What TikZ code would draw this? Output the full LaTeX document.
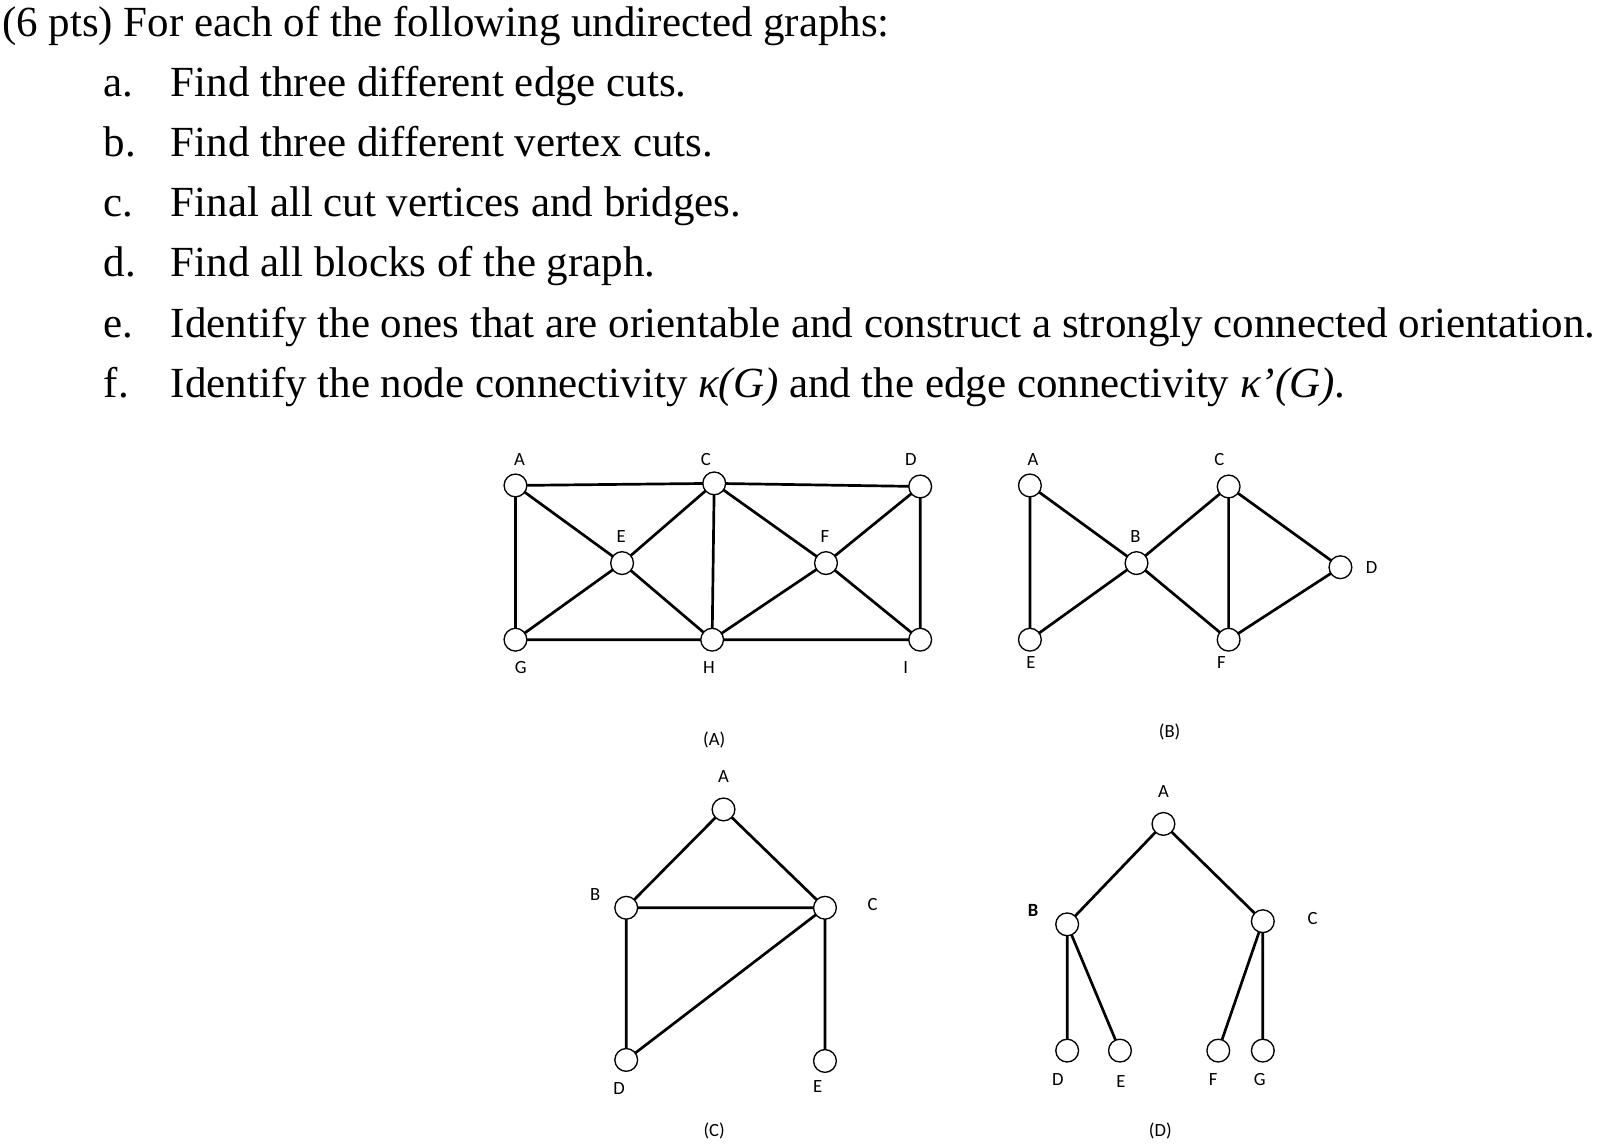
\documentclass[tikz,border=0pt]{standalone}
\usepackage{fontspec}
\setmainfont{Liberation Serif}
\newfontfamily\lblfont{Carlito}
\begin{document}
\begin{tikzpicture}[x=1pt,y=-1pt,
  vtx/.style={circle,draw,fill=white,line width=1.3pt,minimum size=22pt,inner sep=0pt},
  edge/.style={line width=2.6pt},
  lbl/.style={font=\lblfont\fontsize{18}{18}\selectfont},
  txt/.style={anchor=base west,font=\fontsize{41.5}{41.5}\selectfont,inner sep=0pt}]
\useasboundingbox (0,0) rectangle (1568,1108);
\node[txt] (t0) at (2,35) {(6 pts) For each of the following undirected graphs:};
\node[txt] (ta) at (100,93) {a.};\node[txt] (tat) at (165,93) {Find three different edge cuts.};
\node[txt] (tb) at (100,151) {b.};\node[txt] (tbt) at (165,151) {Find three different vertex cuts.};
\node[txt] (tc) at (100,209) {c.};\node[txt] (tct) at (165,209) {Final all cut vertices and bridges.};
\node[txt] (td) at (100,267) {d.};\node[txt] (tdt) at (165,267) {Find all blocks of the graph.};
\node[txt] (te) at (100,326) {e.};\node[txt] (tet) at (165,326) {Identify the ones that are orientable and construct a strongly connected orientation.};
\node[txt] (tf) at (100,384) {f.};\node[txt] (tft) at (165,384) {Identify the node connectivity \textit{κ(G)} and the edge connectivity \textit{κ'(G)}.};
% Graph A
\coordinate (aA) at (498,469);\coordinate (aC) at (690,467);\coordinate (aD) at (889,470);
\coordinate (aE) at (601,544);\coordinate (aF) at (798,544);
\coordinate (aG) at (498,618);\coordinate (aH) at (688,618);\coordinate (aI) at (889,618);
\draw[edge] (aA)--(aC) (aC)--(aD) (aA)--(aG) (aA)--(aE) (aE)--(aH) (aG)--(aE) (aE)--(aC) (aG)--(aH) (aC)--(aH) (aC)--(aF) (aF)--(aI) (aH)--(aF) (aF)--(aD) (aD)--(aI) (aH)--(aI);
\foreach \n in {A,C,D,E,F,G,H,I} \node[vtx] (na\n) at (a\n) {};
\node[lbl] (la1) at (502,444) {A};\node[lbl] (la2) at (682,444) {C};\node[lbl] (la3) at (880,444) {D};
\node[lbl] (la4) at (600,518) {E};\node[lbl] (la5) at (797,518) {F};\node[lbl] (la6) at (503,645) {G};
\node[lbl] (la7) at (685,645) {H};\node[lbl] (la8) at (875,645) {I};
\node[lbl] (capA) at (690,715) {(A)};
% Graph B
\coordinate (bA) at (995,469);\coordinate (bC) at (1187,470);\coordinate (bB) at (1098,544);
\coordinate (bD) at (1295,548);\coordinate (bE) at (995,618);\coordinate (bF) at (1187,618);
\draw[edge] (bA)--(bE) (bA)--(bB) (bB)--(bC) (bB)--(bE) (bB)--(bF) (bC)--(bF) (bC)--(bD) (bD)--(bF);
\foreach \n in {A,B,C,D,E,F} \node[vtx] (nb\n) at (b\n) {};
\node[lbl] (lb1) at (998,444) {A};\node[lbl] (lb2) at (1178,444) {C};\node[lbl] (lb3) at (1097,518) {B};
\node[lbl] (lb4) at (1325,548) {D};\node[lbl] (lb5) at (996,640) {E};\node[lbl] (lb6) at (1180,640) {F};
\node[lbl] (capB) at (1130,707) {(B)};
% Graph C
\coordinate (cA) at (699,782);\coordinate (cB) at (605,877);\coordinate (cC) at (797,877);
\coordinate (cD) at (605,1024);\coordinate (cE) at (797,1025);
\draw[edge] (cA)--(cB) (cA)--(cC) (cB)--(cC) (cB)--(cD) (cD)--(cC) (cC)--(cE);
\foreach \n in {A,B,C,D,E} \node[vtx] (nc\n) at (c\n) {};
\node[lbl] (lc1) at (699,750) {A};\node[lbl] (lc2) at (575,864) {B};\node[lbl] (lc3) at (843,874) {C};
\node[lbl] (lc4) at (598,1052) {D};\node[lbl] (lc5) at (790,1050) {E};
\node[lbl] (capC) at (690,1093) {(C)};
% Graph D
\coordinate (dA) at (1124,796);\coordinate (dB) at (1031,893);\coordinate (dC) at (1220,890);
\coordinate (dD) at (1031,1015);\coordinate (dE) at (1082,1015);\coordinate (dF) at (1177,1015);\coordinate (dG) at (1220,1015);
\draw[edge] (dA)--(dB) (dA)--(dC) (dB)--(dD) (dB)--(dE) (dC)--(dF) (dC)--(dG);
\foreach \n in {A,B,C,D,E,F,G} \node[vtx] (nd\n) at (d\n) {};
\node[lbl] (ld1) at (1124,765) {A};\node[lbl] (ld2) at (998,880) {\textbf{B}};\node[lbl] (ld3) at (1268,887) {C};
\node[lbl] (ld4) at (1022,1043) {D};\node[lbl] (ld5) at (1083,1045) {E};\node[lbl] (ld6) at (1172,1043) {F};\node[lbl] (ld7) at (1217,1043) {G};
\node[lbl] (capD) at (1121,1093) {(D)};
\end{tikzpicture}
\end{document}
